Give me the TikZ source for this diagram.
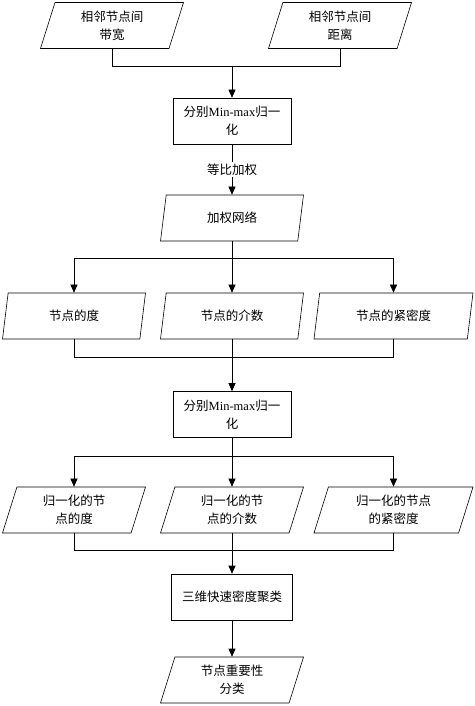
\documentclass[tikz,border=0pt]{standalone}
\usepackage{fontspec}
\setmainfont{Liberation Serif}
\newfontfamily\cjk{Noto Sans CJK SC}
\usetikzlibrary{shapes.geometric,arrows.meta}

\begin{document}
\begin{tikzpicture}[x=1pt,y=-1pt,line width=0.6pt,
  >={Triangle[length=8pt,width=7pt]},
  txt/.style={font=\cjk\fontsize{12.5}{18}\selectfont,align=center,inner sep=0pt},
  io/.style={txt,draw,trapezium,trapezium left angle=64,trapezium right angle=116,
    trapezium stretches body,minimum width=#1,minimum height=46pt},
  io/.default=143pt,
  proc/.style={txt,draw,rectangle,minimum width=118pt,minimum height=46pt},
  lbl/.style={txt,fill=white,inner sep=2pt}]
\useasboundingbox (0,0) rectangle (474,706);

% Inputs
\node[io] (bw) at (112,25.5) {相邻节点间\\带宽};
\node[io] (dist) at (340,25.5) {相邻节点间\\距离};
\coordinate (j1) at (232,66);

% First normalisation
\node[proc] (norm1) at (232,121) {分别{\rmfamily Min-max}归一\\化};
\node[io] (wnet) at (232,218) {加权网络};
\coordinate (j2) at (232,258);

% Centralities
\node[io] (deg) at (74,316) {节点的度};
\node[io] (btw) at (232,316) {节点的介数};
\node[io=159pt] (clo) at (393.5,316) {节点的紧密度};
\coordinate (j3) at (232,357);

% Second normalisation
\node[proc] (norm2) at (232,414.5) {分别{\rmfamily Min-max}归一\\化};
\coordinate (j4) at (232,456);
\node[io] (ndeg) at (74,510) {归一化的节\\点的度};
\node[io] (nbtw) at (232,510) {归一化的节\\点的介数};
\node[io=159pt] (nclo) at (393.5,510) {归一化的节点\\的紧密度};
\coordinate (j5) at (232,550);

% Clustering
\node[proc,minimum width=121pt] (clus) at (232,597) {三维快速密度聚类};
\node[io] (cls) at (232,680) {节点重要性\\分类};

% Connectors
\draw (bw.center |- bw.south) |- (j1);
\draw (dist.center |- dist.south) |- (j1);
\draw[->] (j1) -- (norm1.north);
\draw[->] (norm1.south) -- (wnet.center |- wnet.north) node[lbl,midway] {等比加权};
\draw (wnet.center |- wnet.south) -- (j2);
\draw[->] (j2) -| (deg.center |- deg.north);
\draw[->] (j2) -- (btw.center |- btw.north);
\draw[->] (j2) -| (clo.center |- clo.north);
\draw (deg.center |- deg.south) |- (j3);
\draw (clo.center |- clo.south) |- (j3);
\draw (btw.center |- btw.south) -- (j3);
\draw[->] (j3) -- (norm2.north);
\draw (norm2.south) -- (j4);
\draw[->] (j4) -| (ndeg.center |- ndeg.north);
\draw[->] (j4) -- (nbtw.center |- nbtw.north);
\draw[->] (j4) -| (nclo.center |- nclo.north);
\draw (ndeg.center |- ndeg.south) |- (j5);
\draw (nclo.center |- nclo.south) |- (j5);
\draw (nbtw.center |- nbtw.south) -- (j5);
\draw[->] (j5) -- (clus.north);
\draw[->] (clus.south) -- (cls.center |- cls.north);
\end{tikzpicture}
\end{document}
